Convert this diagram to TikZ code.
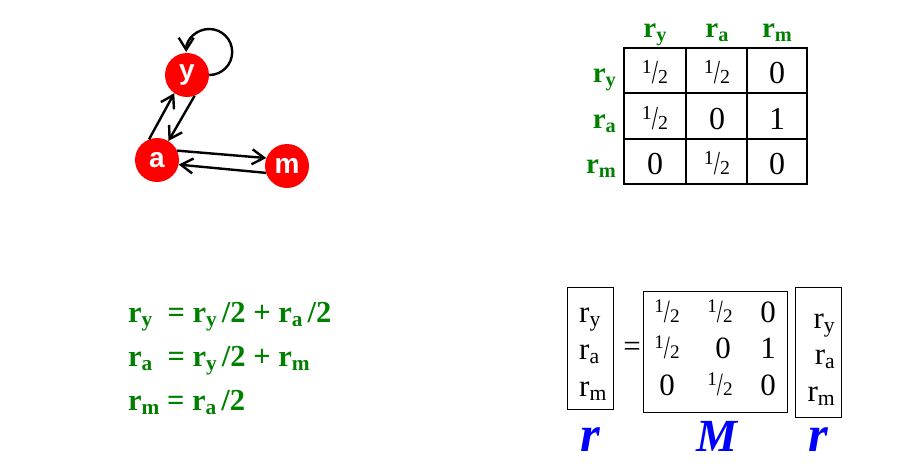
\documentclass[tikz,border=0pt]{standalone}
\usepackage{fontspec}
\setmainfont{Liberation Serif}
\newfontfamily\sansf{Liberation Sans}
\usepackage{graphicx}
\usetikzlibrary{arrows.meta}
\definecolor{dgreen}{RGB}{0,128,0}
\definecolor{mblue}{RGB}{0,0,255}
\newcommand{\sbs}[1]{\raisebox{-0.16em}{\scalebox{0.7}{#1}}}
\newcommand{\half}{\raisebox{0.3em}{\scalebox{0.62}{1}}\scalebox{0.7}[1.05]{/}\scalebox{0.62}{2}}
\tikzset{
  gnode/.style={circle,fill=red,minimum size=44pt,inner sep=0pt,text=white,
    font=\sansf\bfseries\fontsize{28}{28}\selectfont},
  garrow/.style={line width=2.4pt,-{Straight Barb[length=12pt,width=15pt,line width=2.4pt]}},
  hdr/.style={text=dgreen,font=\bfseries\fontsize{29}{29}\selectfont,inner sep=0pt},
  cell/.style={font=\fontsize{32}{32}\selectfont,inner sep=0pt,anchor=base},
  eqn/.style={text=dgreen,font=\bfseries\fontsize{30.5}{30.5}\selectfont,inner sep=0pt,anchor=base west},
  vec/.style={font=\fontsize{31}{31}\selectfont,inner sep=0pt},
  lbl/.style={text=mblue,font=\bfseries\itshape\fontsize{46}{46}\selectfont,inner sep=0pt,anchor=base},
  grid/.style={line width=1.4pt},
  vbox/.style={line width=1pt}
}
\begin{document}
\begin{tikzpicture}[x=1pt,y=-1pt]
\path[use as bounding box,fill=white] (0,0) rectangle (908,469);
% graph
\node[gnode] (y) at (187,75) {y};
\node[gnode] (a) at (157,160) {a};
\node[gnode] (m) at (287,166) {m};
\draw[garrow] (y.east) arc[start angle=90,end angle=-180,radius=23];
\draw[garrow] (a.111) -- (y.235);
\draw[garrow] (y.290) -- (a.59);
\draw[garrow] (a.25) -- (m.159);
\draw[garrow] (m.198) -- (a.348);
% table
\draw[grid] (624,48) rectangle (807,184);
\draw[grid] (686,48) -- (686,184) (747,48) -- (747,184);
\draw[grid] (624,93) -- (807,93) (624,139) -- (807,139);
\node[hdr,anchor=base] (cy) at (655,37) {r\sbs{y}};
\node[hdr,anchor=base] (ca) at (717,37) {r\sbs{a}};
\node[hdr,anchor=base] (cm) at (777,37) {r\sbs{m}};
\node[hdr,anchor=base east] (ry) at (616,82) {r\sbs{y}};
\node[hdr,anchor=base east] (ra) at (616,128) {r\sbs{a}};
\node[hdr,anchor=base east] (rm) at (616,173) {r\sbs{m}};
\node[cell] (t11) at (655,83) {\half};
\node[cell] (t12) at (717,83) {\half};
\node[cell] (t13) at (777,83) {0};
\node[cell] (t21) at (655,129) {\half};
\node[cell] (t22) at (717,129) {0};
\node[cell] (t23) at (777,129) {1};
\node[cell] (t31) at (655,174) {0};
\node[cell] (t32) at (717,174) {\half};
\node[cell] (t33) at (777,174) {0};
% equations
\node[eqn] (e1) at (128,322) {r\sbs{y}\ \ = r\sbs{y}\,/2 + r\sbs{a}\,/2};
\node[eqn] (e2) at (128,366) {r\sbs{a}\ \ = r\sbs{y}\,/2 + r\sbs{m}};
\node[eqn] (e3) at (128,410) {r\sbs{m} = r\sbs{a}\,/2};
% matrix equation
\draw[vbox] (567,287) rectangle (613,409);
\draw[vbox] (643,291) rectangle (787,412);
\draw[vbox] (795,287) rectangle (841,417);
\node[vec,anchor=base west] (ly) at (579,322) {r\sbs{y}};
\node[vec,anchor=base west] (la) at (579,359) {r\sbs{a}};
\node[vec,anchor=base west] (lm) at (579,396) {r\sbs{m}};
\node[vec,anchor=base] (eq) at (632,356) {=};
\node[vec,anchor=base] (m11) at (667,322) {\half};
\node[vec,anchor=base] (m12) at (720,322) {\half};
\node[vec,anchor=base east] (m13) at (776,322) {0};
\node[vec,anchor=base] (m21) at (667,358) {\half};
\node[vec,anchor=base east] (m22) at (731,358) {0};
\node[vec,anchor=base east] (m23) at (776,358) {1};
\node[vec,anchor=base] (m31) at (667,395) {0};
\node[vec,anchor=base] (m32) at (720,395) {\half};
\node[vec,anchor=base east] (m33) at (776,395) {0};
\node[vec,anchor=base east] (ry2) at (835,328) {r\sbs{y}};
\node[vec,anchor=base east] (ra2) at (835,364) {r\sbs{a}};
\node[vec,anchor=base east] (rm2) at (835,401) {r\sbs{m}};
\node[lbl] (lr) at (590,451) {\scalebox{1.1}{r}};
\node[lbl] (lM) at (717,451) {M};
\node[lbl] (rr) at (818,451) {\scalebox{1.1}{r}};
\end{tikzpicture}
\end{document}
